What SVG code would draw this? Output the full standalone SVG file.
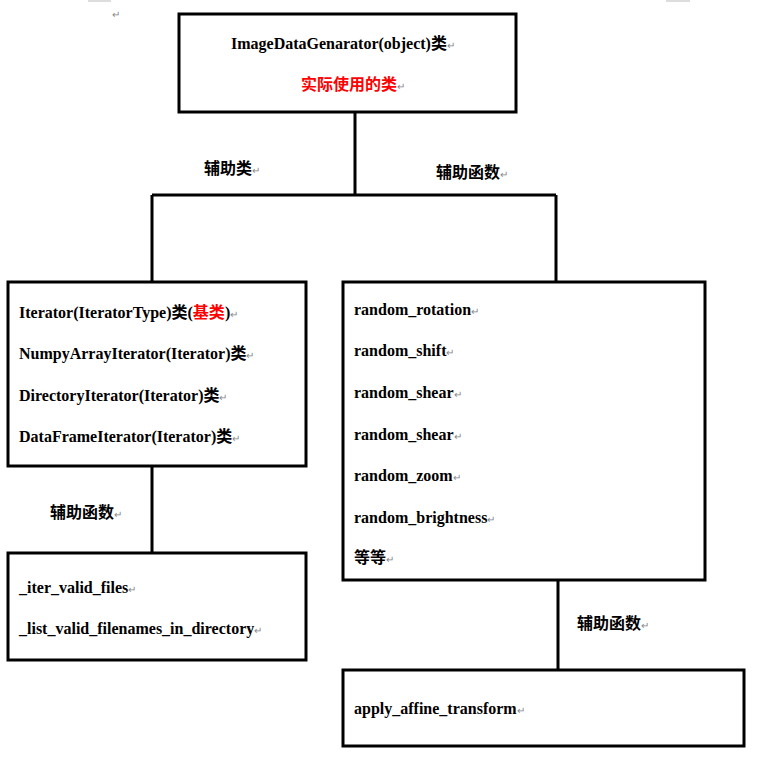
<svg xmlns="http://www.w3.org/2000/svg" width="758" height="769" viewBox="0 0 758 769">
<style>
.box{fill:#fff;stroke:#000;stroke-width:3}
.ln{stroke:#000;stroke-width:3;fill:none}
text{font-family:"Liberation Serif","Noto Sans CJK SC",serif;font-weight:bold;font-size:16px;fill:#000}
.r{fill:#f00}
.m{fill:#888;font-size:10px;font-weight:normal}
</style>
<rect width="758" height="769" fill="#fff"/>
<path d="M88 1H111M666 1H690" stroke="#bbb" stroke-width="1"/>
<text x="112" y="18" class="m">↵</text>
<g id="connectors">
<path class="ln" d="M355 112V195M152 195H556M152 195V282M556 195V282M152 466V553M558 580V670"/>
</g>
<g id="labels">
<text x="204" y="174">辅助类<tspan class="m">↵</tspan></text>
<text x="436" y="178">辅助函数<tspan class="m">↵</tspan></text>
<text x="50" y="518">辅助函数<tspan class="m">↵</tspan></text>
<text x="577" y="629">辅助函数<tspan class="m">↵</tspan></text>
</g>
<g id="top">
<rect class="box" x="179" y="14" width="337" height="98"/>
<text x="231" y="49">ImageDataGenarator(object)类<tspan class="m">↵</tspan></text>
<text x="301" y="90" class="r">实际使用的类<tspan class="m">↵</tspan></text>
</g>
<g id="iterators">
<rect class="box" x="8" y="282" width="298" height="184"/>
<text x="19" y="318">Iterator(IteratorType)类(<tspan class="r">基类</tspan>)<tspan class="m">↵</tspan></text>
<text x="19" y="359">NumpyArrayIterator(Iterator)类<tspan class="m">↵</tspan></text>
<text x="19" y="401">DirectoryIterator(Iterator)类<tspan class="m">↵</tspan></text>
<text x="19" y="442">DataFrameIterator(Iterator)类<tspan class="m">↵</tspan></text>
</g>
<g id="random">
<rect class="box" x="343" y="282" width="362" height="298"/>
<text x="354" y="315">random_rotation<tspan class="m">↵</tspan></text>
<text x="354" y="356">random_shift<tspan class="m">↵</tspan></text>
<text x="354" y="398">random_shear<tspan class="m">↵</tspan></text>
<text x="354" y="440">random_shear<tspan class="m">↵</tspan></text>
<text x="354" y="481">random_zoom<tspan class="m">↵</tspan></text>
<text x="354" y="523">random_brightness<tspan class="m">↵</tspan></text>
<text x="354" y="563">等等<tspan class="m">↵</tspan></text>
</g>
<g id="files">
<rect class="box" x="8" y="553" width="298" height="107"/>
<text x="19" y="593">_iter_valid_files<tspan class="m">↵</tspan></text>
<text x="19" y="634">_list_valid_filenames_in_directory<tspan class="m">↵</tspan></text>
</g>
<g id="affine">
<rect class="box" x="343" y="670" width="401" height="76"/>
<text x="354" y="714">apply_affine_transform<tspan class="m">↵</tspan></text>
</g>
</svg>
